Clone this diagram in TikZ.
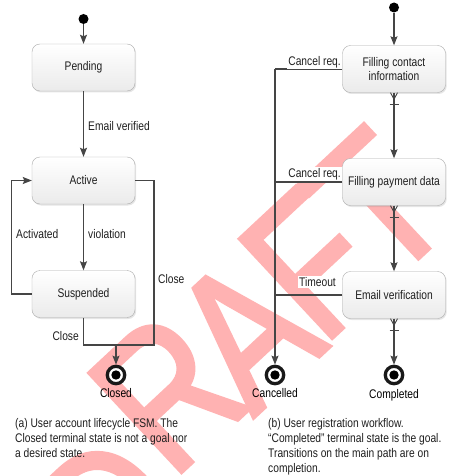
\documentclass[tikz,border=0pt]{standalone}
\usepackage{fontspec}
\setmainfont{Liberation Sans}[FakeStretch=0.82]
\newfontfamily\wmfont{Liberation Sans}[FakeStretch=0.8,FakeBold=2]
\usetikzlibrary{arrows.meta,shadows}
\definecolor{ln}{HTML}{454545}
\definecolor{wm}{RGB}{255,178,178}
\begin{document}
\begin{tikzpicture}[x=1pt,y=-1pt,
  font=\fontsize{12.5}{14.7}\selectfont,
  statebox/.style={draw=gray!65, rounded corners=8pt, top color=white, bottom color=gray!16,
    minimum width=103pt, minimum height=47pt, align=center, text=black!88,
    drop shadow={opacity=0.2, shadow xshift=1.2pt, shadow yshift=-1.5pt}},
  conn/.style={draw=ln, line width=1.2pt, -{Stealth[length=9pt,width=7pt,inset=1.5pt]}},
  plainln/.style={draw=ln, line width=1.2pt},
  markln/.style={draw=ln, line width=0.9pt},
  initdot/.style={circle, fill=black, minimum size=10pt, inner sep=0pt},
  finalst/.style={circle, draw=black!90, line width=3.3pt, fill=white, minimum size=17.4pt, inner sep=0pt,
    path picture={\fill[black] (path picture bounding box.center) circle (4.7pt);}},
  lbl/.style={fill=white, inner sep=1pt, text=black!88},
  captext/.style={align=left, inner sep=0pt, text=black!88, font=\fontsize{12.5}{15}\selectfont},
  wmletter/.style={rotate=43, anchor=base west, inner sep=0pt, text=wm, font=\wmfont\fontsize{197}{197}\selectfont},
]
\useasboundingbox (0,0) rectangle (474,476);
\fill[white] (0,0) rectangle (474,476);
% watermark
\begin{scope}
\clip (0,0) rectangle (474,476);
\node[wmletter] (wD) at (116,602) {D};
\node[wmletter] (wR) at (172,481) {R};
\node[wmletter] (wA) at (253.3,417.9) {A};
\node[wmletter] (wF) at (322.6,346.9) {F};
\node[wmletter] (wT) at (388.5,286.4) {T};
\end{scope}

% ---- left FSM ----
\node[initdot] (i1) at (83.5,19) {};
\node[statebox] (pend) at (83.5,67.5) {Pending};
\node[statebox] (act) at (83.5,180.5) {Active};
\node[statebox] (susp) at (83.5,294) {Suspended};
\node[finalst] (closed) at (116,375) {};
\node[anchor=base, inner sep=0pt] (closedl) at (116,397.5) {Closed};
\coordinate (m1) at (116,345);

\draw[conn] (i1) -- (pend);
\draw[conn] (pend) -- (act);
\draw[conn] (act) -- (susp);
\draw[conn] (susp.west) -- ++(-20.5,0) |- (act.west);
\draw[plainln] (act.east) -| (154,345) -- (m1);
\draw[plainln] (susp.south) |- (m1);
\draw[conn] (m1) -- (closed);

\node[lbl, anchor=base west] (l1) at (87,130.5) {Email verified};
\node[lbl, anchor=base west] (l2) at (87,238.5) {violation};
\node[lbl, anchor=base west] (l3) at (15,238.5) {Activated};
\node[lbl, anchor=base west] (l4) at (157,283.5) {Close};
\node[lbl, anchor=base east] (l5) at (80,340.5) {Close};

% ---- right workflow ----
\node[initdot] (i2) at (394,7.5) {};
\node[statebox] (fci) at (394,69) {Filling contact\\information};
\node[statebox] (fpd) at (394,182) {Filling payment data};
\node[statebox] (ev) at (394,295) {Email verification};
\node[finalst] (canc) at (275,375) {};
\node[finalst] (comp) at (394,375) {};
\node[anchor=base, inner sep=0pt] (cancl) at (275,397) {Cancelled};
\node[anchor=base, inner sep=0pt] (compl) at (394,398.5) {Completed};

\draw[conn] (i2) -- (fci);
\draw[conn] (fci) -- (fpd);
\draw[conn] (fpd) -- (ev);
\draw[conn] (ev) -- (comp);
\foreach \b in {fci,fpd,ev}{
  \draw[markln] (\b.south) ++(-3.5,0) -- ++(3.5,6.5) -- ++(3.5,-6.5);
  \draw[markln] (\b.south) ++(-4.5,12) -- ++(9,0);
}
\coordinate (c1) at (275,69);
\draw[plainln] (fci.west) -- (c1);
\draw[conn] (c1) -- (canc);
\draw[plainln] (fpd.west) -- (fpd.west -| c1);
\draw[plainln] (ev.west) -- (ev.west -| c1);

\node[lbl, anchor=base east] (r1) at (342,65.5) {Cancel req.};
\node[lbl, anchor=base east] (r2) at (342,177.5) {Cancel req.};
\node[lbl, anchor=base east] (r3) at (337,286.5) {Timeout};

% ---- captions ----
\node[captext, anchor=north west] (capa) at (15,418) {(a) User account lifecycle FSM. The\\Closed terminal state is not a goal nor\\a desired state.};
\node[captext, anchor=north west] (capb) at (268,418) {(b) User registration workflow.\\“Completed” terminal state is the goal.\\Transitions on the main path are on\\completion.};
\end{tikzpicture}
\end{document}
